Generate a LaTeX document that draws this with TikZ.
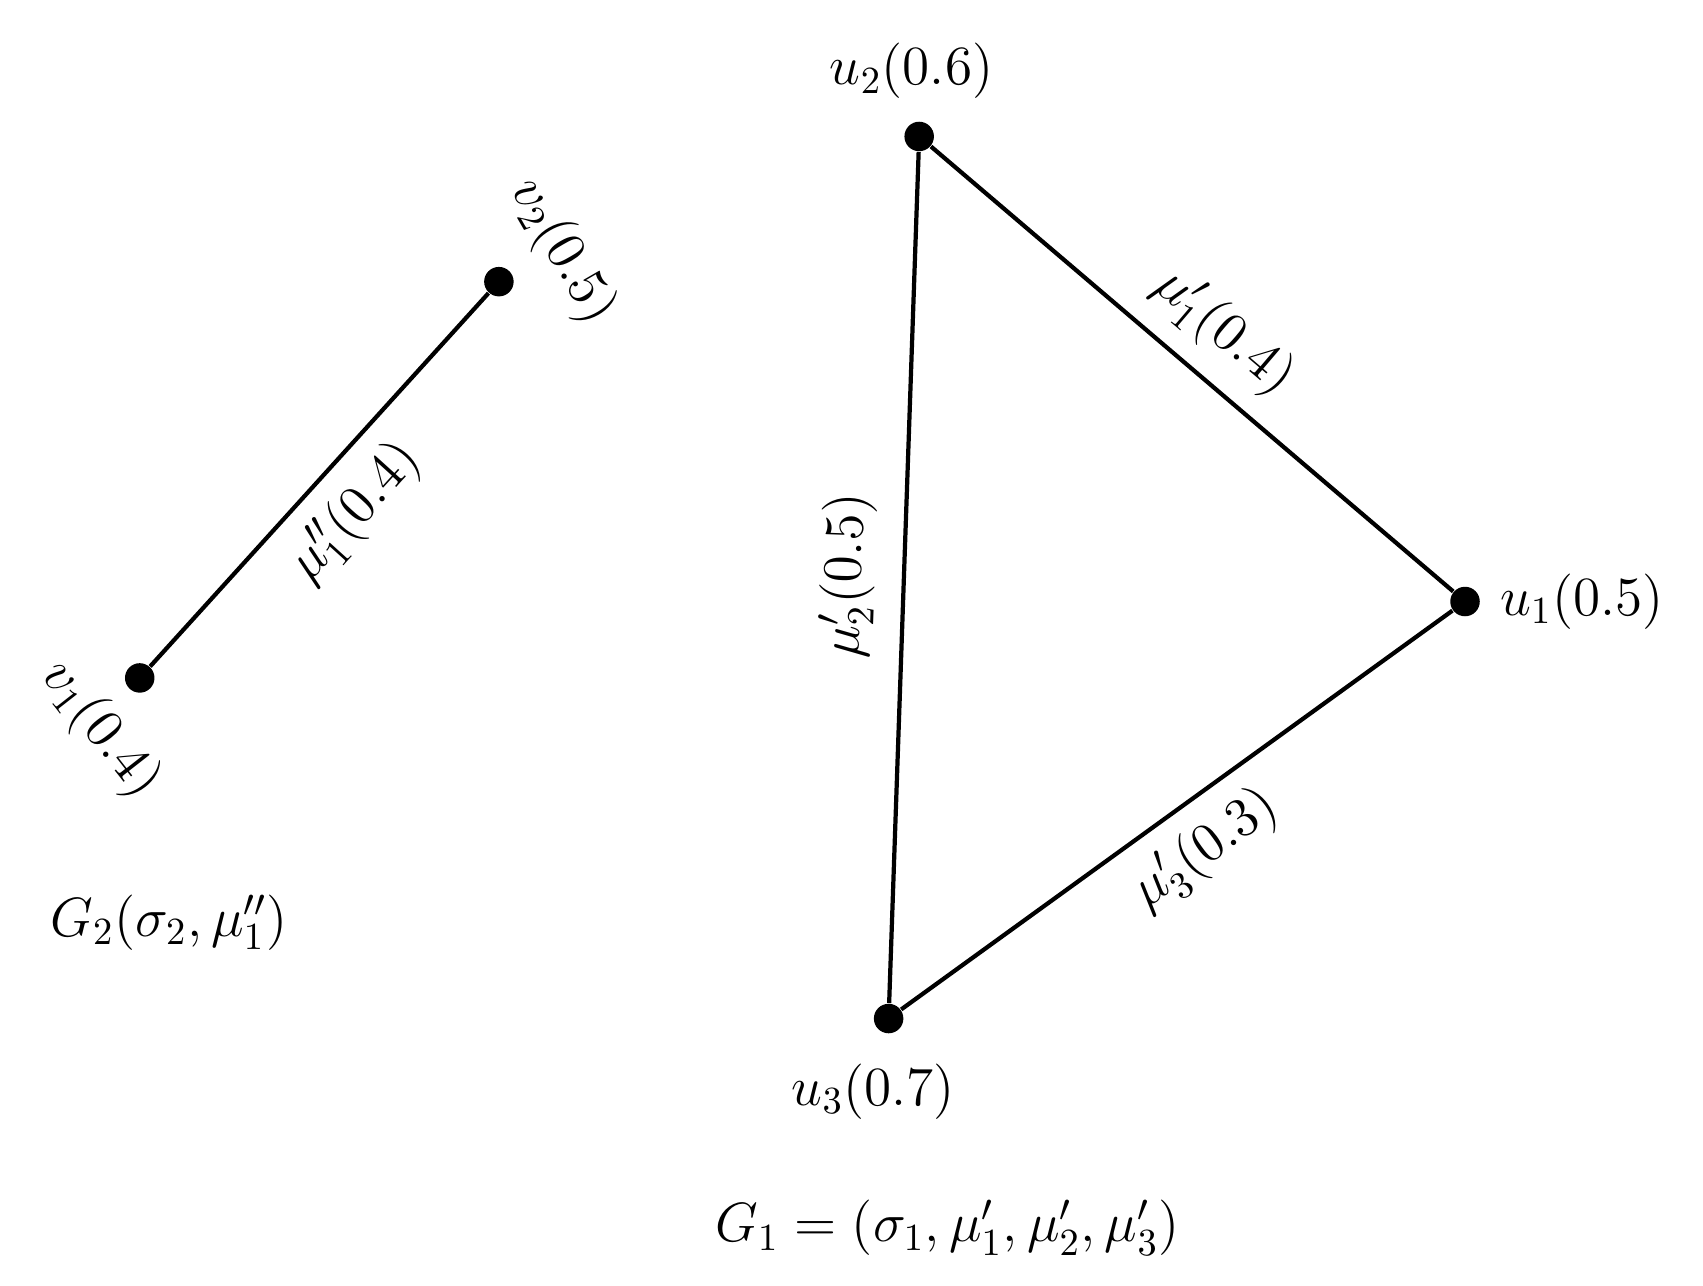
\documentclass[tikz,border=0pt]{standalone}
\begin{document}
\begin{tikzpicture}[x=0.01cm,y=-0.01cm,
  dot/.style={circle,fill=black,inner sep=0pt,minimum size=0.27cm},
  lbl/.style={font=\fontsize{14.6}{17}\selectfont},
  edge/.style={line width=1.1pt}]
\useasboundingbox (0,0) rectangle (1560,1178);
\node[dot] (v1) at (128,621) {};
\node[dot] (v2) at (457,258) {};
\node[dot] (u2) at (842,125) {};
\node[dot] (u1) at (1342,551) {};
\node[dot] (u3) at (814,933) {};
\draw[edge] (v1) -- node[lbl,sloped,below,inner sep=5pt]{$\mu_1''(0.4)$} (v2);
\draw[edge] (u2) -- node[lbl,sloped,above,inner sep=5pt]{$\mu_1'(0.4)$} (u1);
\draw[edge] (u3) -- node[lbl,sloped,above,inner sep=7pt]{$\mu_2'(0.5)$} (u2);
\draw[edge] (u3) -- node[lbl,sloped,below,inner sep=5pt]{$\mu_3'(0.3)$} (u1);
\node[lbl,rotate=-60] (lv2) at (515,230) {$v_2(0.5)$};
\node[lbl,rotate=-52] (lv1) at (92,668) {$v_1(0.4)$};
\node[lbl] (lu2) at (835,65) {$u_2(0.6)$};
\node[lbl,anchor=west] (lu1) at (1362,551) {$u_1(0.5)$};
\node[lbl] (lu3) at (800,1000) {$u_3(0.7)$};
\node[lbl] (g2) at (155,845) {$G_2(\sigma_2,\mu_1'')$};
\node[lbl] (g1) at (868,1125) {$G_1=(\sigma_1,\mu_1',\mu_2',\mu_3')$};
\end{tikzpicture}
\end{document}
